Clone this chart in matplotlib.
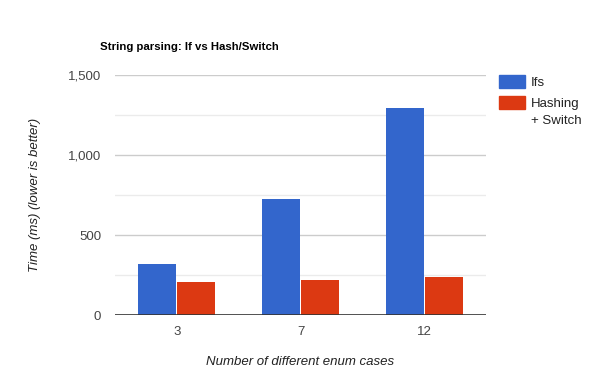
import matplotlib.pyplot as plt
import numpy as np
from matplotlib.patches import Rectangle

plt.rcParams['font.family'] = ['Liberation Sans', 'DejaVu Sans']

categories = ["3", "7", "12"]
ifs = [319, 725, 1294]
hash_switch = [206, 219, 237]
series_names = ["Ifs", "Hashing\n+ Switch"]
colors = ["#3366cc", "#dc3912"]
y_ticks = [0, 500, 1000, 1500]
y_tick_labels = ["0", "500", "1,000", "1,500"]

fig = plt.figure(figsize=(6, 3.9), dpi=100)
ax = fig.add_axes([115 / 600, 1 - 315 / 390, 371 / 600, 240 / 390])

x = np.arange(len(categories))
w = 0.306
ax.bar(x - w / 2 - 0.004, ifs, w, color=colors[0], zorder=3)
ax.bar(x + w / 2 + 0.004, hash_switch, w, color=colors[1], zorder=3)

ax.set_xlim(-0.5, 2.5)
ax.set_ylim(0, 1500)

for v in [250, 750, 1250]:
    ax.axhline(v, color="#ebebeb", lw=1, zorder=1)
for v in [500, 1000, 1500]:
    ax.axhline(v, color="#cccccc", lw=1, zorder=1)
ax.axhline(0, color="#333333", lw=1.2, zorder=4)

for s in ax.spines.values():
    s.set_visible(False)
ax.set_yticks(y_ticks)
ax.set_yticklabels(y_tick_labels)
ax.set_xticks(x)
ax.set_xticklabels(categories)
ax.tick_params(length=0, colors="#444444", labelsize=9.5)
ax.tick_params(axis="y", pad=10)
ax.tick_params(axis="x", pad=8)

fig.text(100 / 600, 1 - 47 / 390, "String parsing: If vs Hash/Switch",
         fontsize=8.2, fontweight="bold", va="center", ha="left", color="#000000")
fig.text(300 / 600, 1 - 362 / 390, "Number of different enum cases",
         fontsize=9.5, style="italic", ha="center", va="center", color="#222222")
fig.text(35 / 600, 1 - 195 / 390, "Time (ms) (lower is better)",
         fontsize=9.5, style="italic", ha="center", va="center",
         rotation=90, color="#222222")

# legend, drawn by hand to match the google-charts layout
legend_top = [75, 96]
for name, col, top in zip(series_names, colors, legend_top):
    fig.patches.append(Rectangle((499 / 600, 1 - (top + 13) / 390), 26 / 600, 13 / 390,
                                 transform=fig.transFigure, color=col))
    fig.text(531 / 600, 1 - (top + 2) / 390, name, fontsize=9.5, color="#222222",
             ha="left", va="top", linespacing=1.55)

fig.savefig("out.png", dpi=100)
